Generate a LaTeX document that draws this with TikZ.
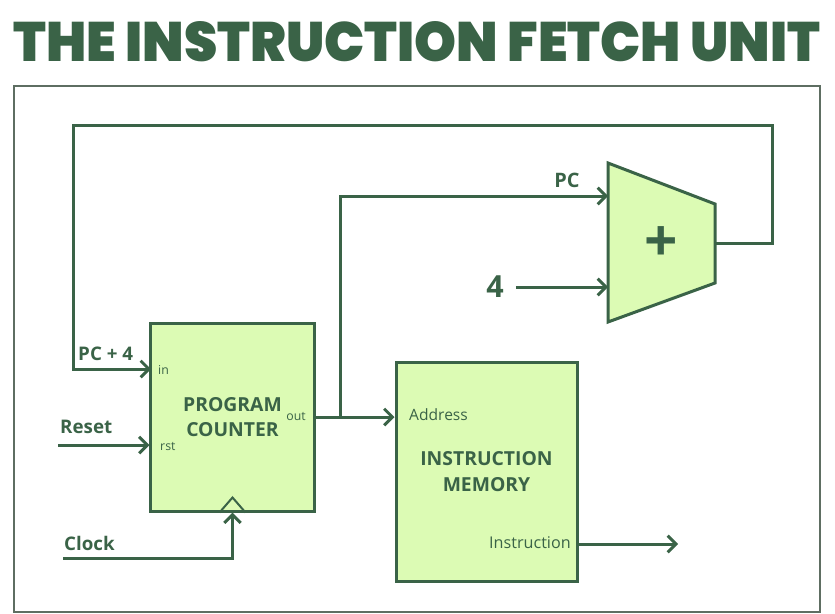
\documentclass[tikz,border=0pt]{standalone}
\usepackage{fontspec}
\setmainfont{Open Sans}
\IfFontExistsTF{Poppins Black}{\newfontfamily\titlefont{Poppins Black}}{\newfontfamily\titlefont{Poppins}[UprightFont={* Bold}]}
\usepackage{xcolor}
\usepackage{graphicx}
\usetikzlibrary{arrows.meta,positioning}
\definecolor{dkgreen}{HTML}{3A6347}
\definecolor{ltgreen}{HTML}{DCFBB4}
\definecolor{framegray}{HTML}{5E6E62}

\begin{document}
\begin{tikzpicture}[x=0.03cm,y=-0.03cm,>={Straight Barb[length=7pt,width=14pt]},
  blk/.style={draw=dkgreen,fill=ltgreen,line width=0.09cm,align=center,text=dkgreen,font=\bfseries\fontsize{16.5}{22}\selectfont},
  wire/.style={draw=dkgreen,line width=0.09cm},
  port/.style={text=dkgreen,font=\fontsize{10.5}{12}\selectfont,inner sep=0pt},
  sig/.style={text=dkgreen,font=\bfseries\fontsize{16}{18}\selectfont,inner sep=0pt}]
\useasboundingbox (0,0) rectangle (835,614);
\node[text=dkgreen,inner sep=0pt,anchor=south] (title) at (417,62) {\resizebox{24.18cm}{1.2cm}{\titlefont THE INSTRUCTION FETCH UNIT}};
\draw[framegray,line width=1pt] (14,86) rectangle (820,612);

\node[blk,minimum width=4.89cm,minimum height=5.64cm] (pc) at (232.5,417) {PROGRAM\\COUNTER};
\node[blk,minimum width=5.43cm,minimum height=6.57cm] (im) at (486.5,471.5) {INSTRUCTION\\MEMORY};
\draw[blk] (608,163) -- (715,204) -- (715,283) -- (608,322) -- cycle;
\node[text=dkgreen,font=\bfseries\fontsize{50}{50}\selectfont] (plus) at (661,244) {+};

\node[port,anchor=west] (in) at (158,370) {in};
\node[port,anchor=west] (rstp) at (160,447) {rst};
\node[port,anchor=east] (out) at (306,416) {out};
\node[port,anchor=west,font=\fontsize{13.3}{15}\selectfont] (addr) at (409,415) {Address};
\node[port,anchor=east,font=\fontsize{13.8}{15}\selectfont] (ins) at (571,543) {Instruction};

\coordinate (pcin) at (151,369);
\coordinate (rst) at (58,445);
\coordinate (clk) at (63,558);
\coordinate (tap) at (340,417);
\coordinate (addA) at (608,196);
\coordinate (addB) at (608,287);
\coordinate (addout) at (715,243);
\coordinate (imout) at (577,544);
\coordinate (instr) at (678,544);

\node[sig,anchor=west] (pc4) at (78,354) {PC + 4};
\node[sig,anchor=west] (rstlbl) at (60,427) {Reset};
\node[sig,anchor=west] (clklbl) at (64,543) {Clock};
\node[sig,font=\bfseries\fontsize{17}{18}\selectfont] (pclbl) at (567,180) {PC};
\node[sig,font=\bfseries\fontsize{26}{28}\selectfont] (four) at (495,287) {4};

\draw[wire,->] (addout) -- (772,243) |- (73,125) |- (pcin);
\draw[wire,->] (rst) -- (rst -| pc.west);
\draw[wire,->] (clk) -| (pc.south);
\draw[dkgreen,line width=0.06cm] ([xshift=-13*0.03cm]pc.south) -- ++(13,-15) -- ++(13,15);
\draw[wire,->] (pc.east) -- (pc.east -| im.west);
\draw[wire,->] (tap) |- (addA);
\draw[wire,->] ([xshift=0.36cm]four.east) -- (addB);
\draw[wire,->] (imout) -- (instr);
\end{tikzpicture}
\end{document}
